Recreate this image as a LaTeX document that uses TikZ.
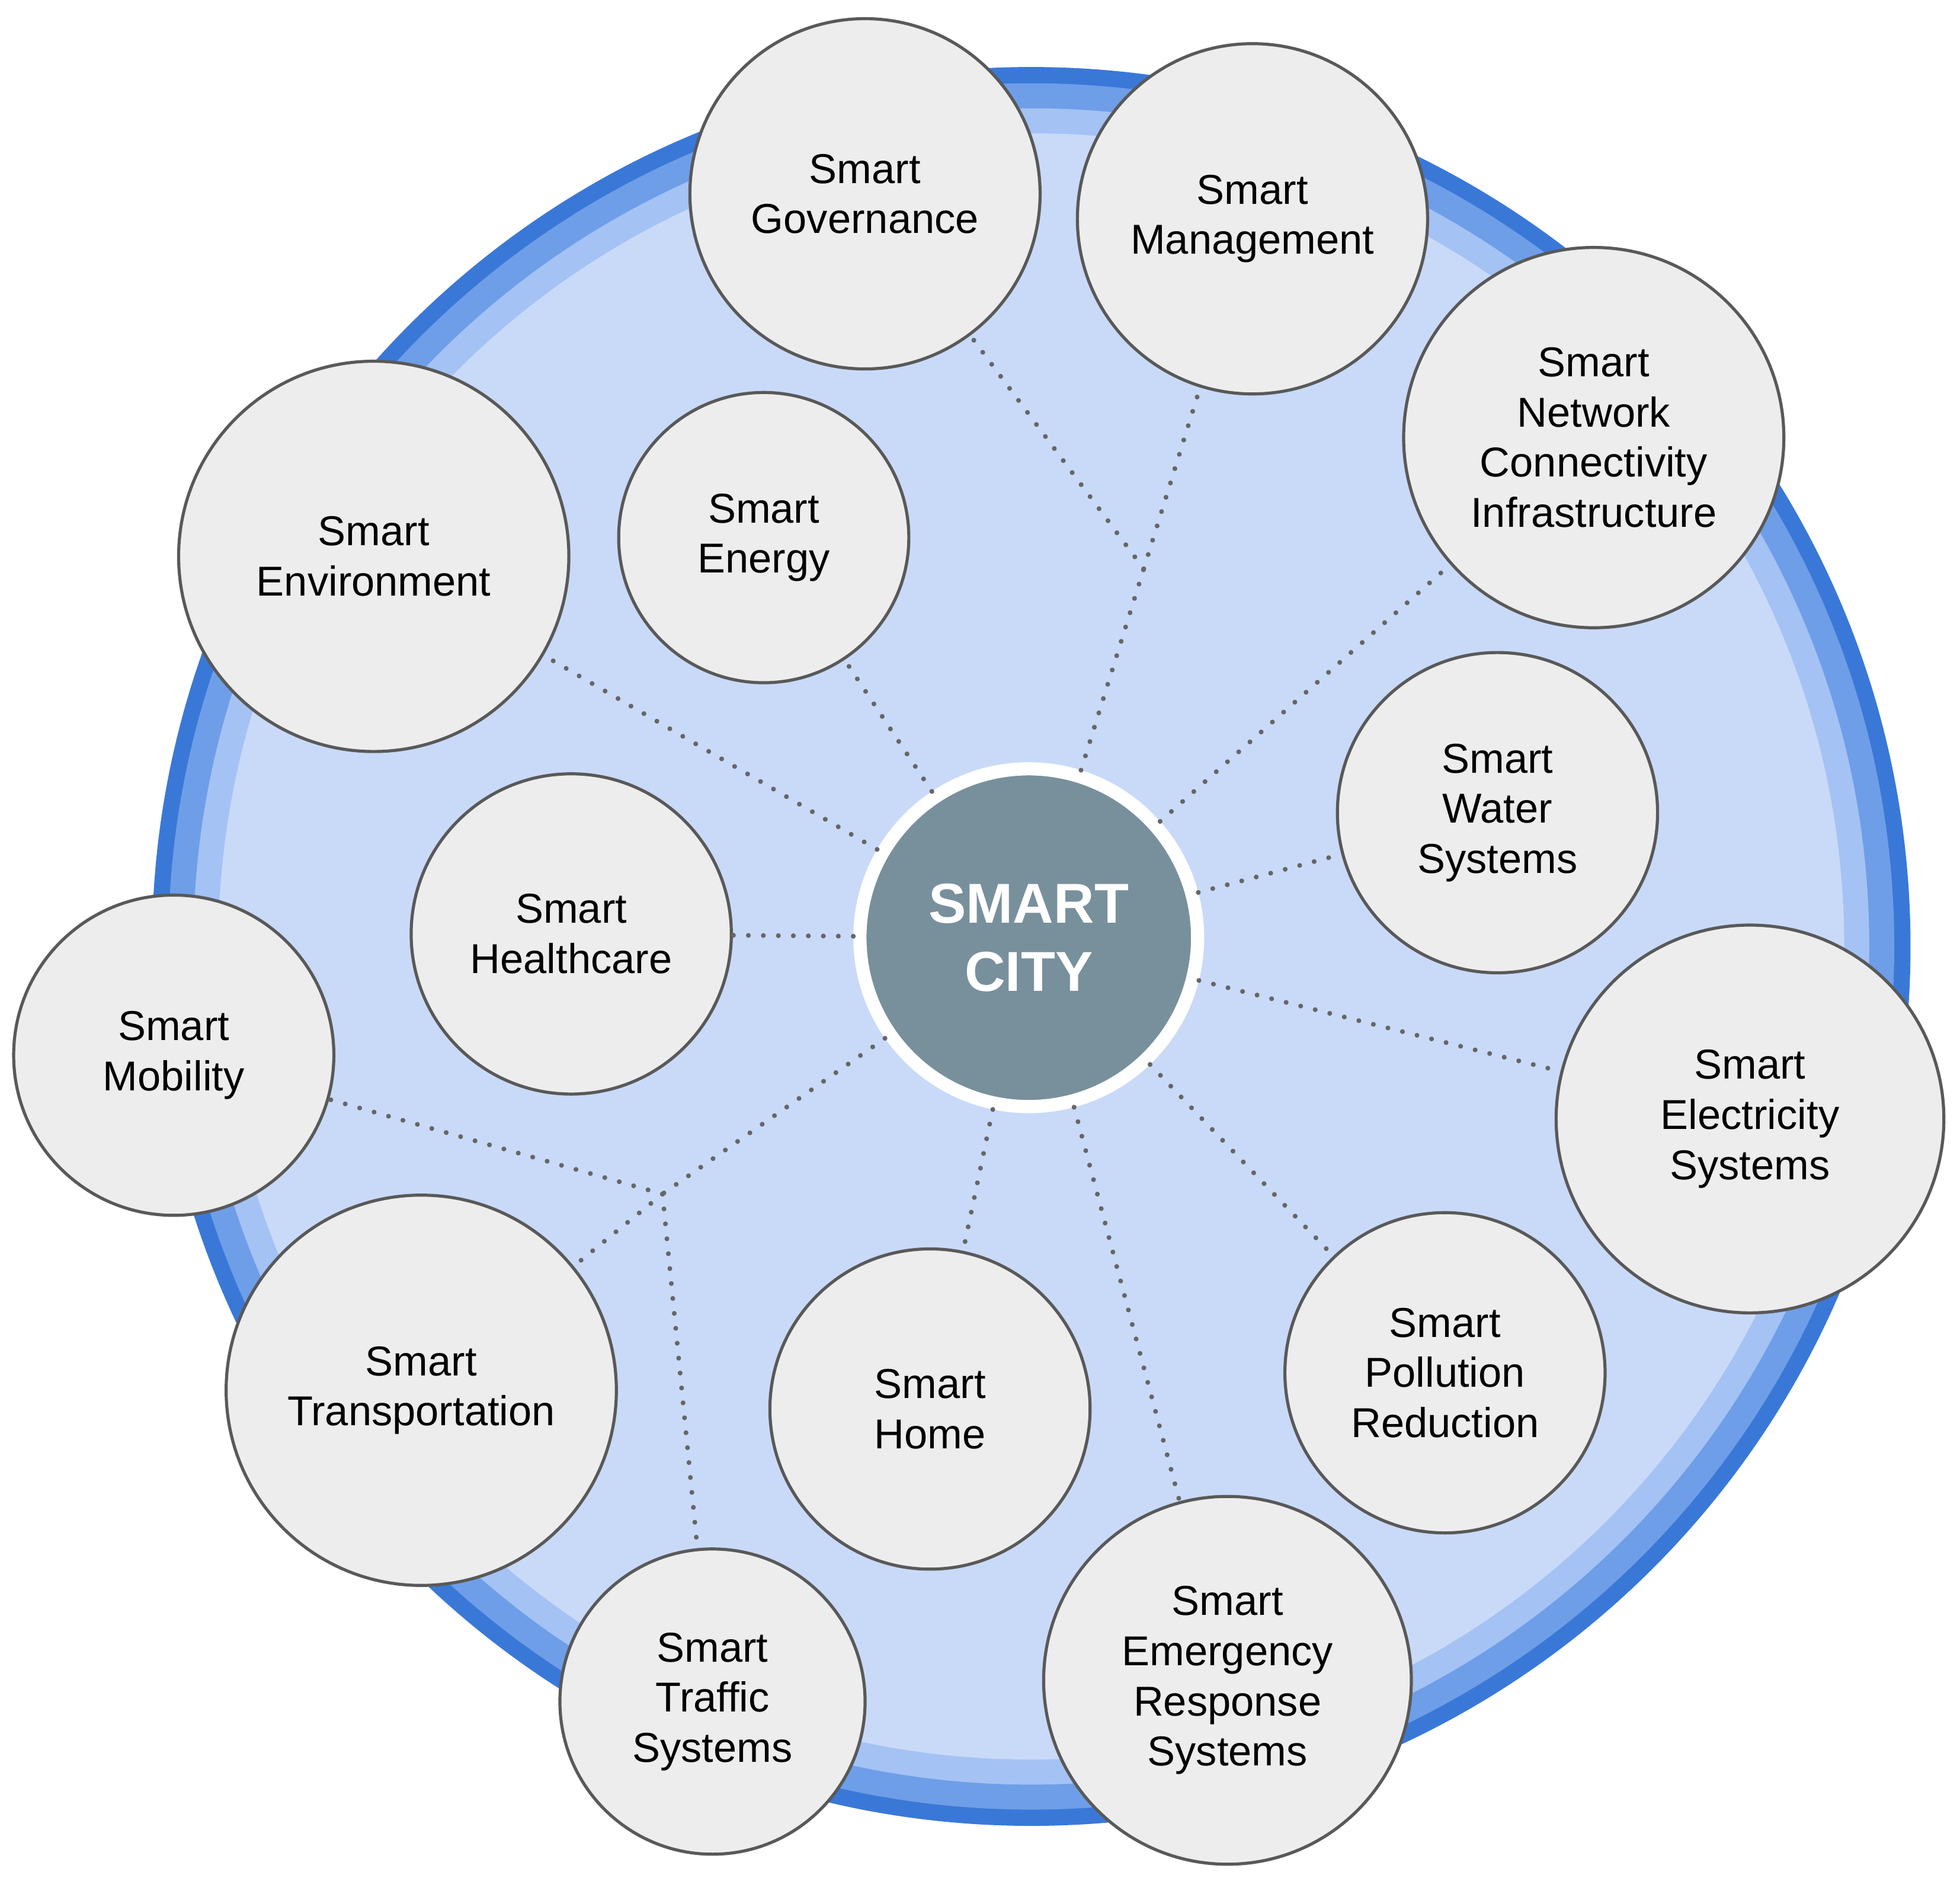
\documentclass[tikz,border=0pt]{standalone}
\usepackage{fontspec}
\setmainfont{Liberation Sans}
\begin{document}
\begin{tikzpicture}[x=0.01cm,y=-0.01cm,
  bub/.style={circle,draw=black!65,line width=0.7pt,fill=black!7,align=center,font=\fontsize{9.5}{11.4}\selectfont,inner sep=0pt},
  dl/.style={draw=black!60,line width=1.1pt,dash pattern=on 0.01pt off 3.4pt,line cap=round}]
\useasboundingbox (0,0) rectangle (1568,1502);
\fill[fill={rgb,255:red,58;green,120;blue,216}] (825,757) circle (7.03cm);
\fill[fill={rgb,255:red,110;green,158;blue,232}] (825,757) circle (6.90cm);
\fill[fill={rgb,255:red,164;green,194;blue,244}] (825,757) circle (6.70cm);
\fill[fill={rgb,255:red,201;green,218;blue,248}] (825,757) circle (6.50cm);
\node[circle,fill={rgb,255:red,120;green,144;blue,156},draw=white,line width=3pt,minimum size=2.7cm,align=center,text=white,font=\bfseries\fontsize{12.8}{15.6}\selectfont] (c) at (823,750) {SMART\\CITY};
\coordinate (j1) at (915,455);
\coordinate (j2) at (530,955);
\draw[dl] (c) -- (j1);
\draw[dl] (c) -- (j2);
\node[bub,minimum size=2.8cm] (gov) at (692,155) {Smart\\Governance};
\node[bub,minimum size=2.8cm] (man) at (1002,175) {Smart\\Management};
\node[bub,minimum size=3.04cm] (net) at (1275,350) {Smart\\Network\\Connectivity\\Infrastructure};
\node[bub,minimum size=3.12cm] (env) at (299,445) {Smart\\Environment};
\node[bub,minimum size=2.32cm] (ene) at (611,430) {Smart\\Energy};
\node[bub,minimum size=2.56cm] (wat) at (1198,650) {Smart\\Water\\Systems};
\node[bub,minimum size=2.56cm] (hea) at (457,747) {Smart\\Healthcare};
\node[bub,minimum size=2.56cm] (mob) at (139,844) {Smart\\Mobility};
\node[bub,minimum size=3.1cm] (ele) at (1400,895) {Smart\\Electricity\\Systems};
\node[bub,minimum size=3.12cm] (tra) at (337,1112) {Smart\\Transportation};
\node[bub,minimum size=2.56cm] (hom) at (744,1127) {Smart\\Home};
\node[bub,minimum size=2.56cm] (pol) at (1156,1098) {Smart\\Pollution\\Reduction};
\node[bub,minimum size=2.94cm] (eme) at (982,1344) {Smart\\Emergency\\Response\\Systems};
\node[bub,minimum size=2.44cm] (trf) at (570,1361) {Smart\\Traffic\\Systems};
\draw[dl] (j1) -- (gov);
\draw[dl] (j1) -- (man);
\draw[dl] (c) -- (net);
\draw[dl] (c) -- (env);
\draw[dl] (c) -- (ene);
\draw[dl] (c) -- (wat);
\draw[dl] (c) -- (hea);
\draw[dl] (c) -- (ele);
\draw[dl] (c) -- (pol);
\draw[dl] (c) -- (eme);
\draw[dl] (c) -- (hom);
\draw[dl] (j2) -- (mob);
\draw[dl] (j2) -- (tra);
\draw[dl] (j2) -- (trf);
\end{tikzpicture}
\end{document}
